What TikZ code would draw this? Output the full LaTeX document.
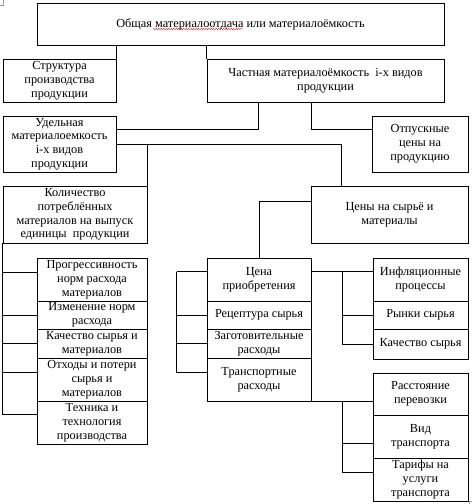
\documentclass[tikz,border=0pt]{standalone}
\usepackage{fontspec}
\setmainfont{Liberation Serif}
\usetikzlibrary{decorations.pathmorphing}
\tikzset{
  box/.style={draw, line width=0.8pt, inner sep=0pt, align=center, font=\fontsize{12.3}{13.8}\selectfont},
  conn/.style={line width=0.8pt},
  mark/.style={draw=gray, line width=0.6pt}
}
\begin{document}
\begin{tikzpicture}[x=1pt,y=-1pt]
\useasboundingbox (0,0) rectangle (472,504);
% corner marks
\draw[gray!80, line width=0.6pt] (0,5) -- (3,5) -- (3,0);
\draw[gray!80, line width=0.6pt] (469,504) -- (469,501) -- (472,501);
% boxes
\node[box, minimum width=407pt, minimum height=42pt] (top) at (240.5,24) {Общая материалоотдача или материалоёмкость};
\draw[red, line width=0.4pt, decorate, decoration={snake, amplitude=0.6pt, segment length=2.5pt}] (153,29) -- (243,29);
\node[box, minimum width=113pt, minimum height=43pt] (str) at (59.5,80.5) {Структура\\производства\\продукции};
\node[box, minimum width=237pt, minimum height=43pt] (part) at (325.5,80.5) {Частная материалоёмкость\ \ i-x видов\\продукции};
\node[box, minimum width=113pt, minimum height=56pt] (ud) at (59.5,144) {Удельная\\материалоемкость\\i-x видов\\продукции};
\node[box, minimum width=96pt, minimum height=56pt] (otp) at (420,144) {Отпускные\\цены на\\продукцию};
\node[box, minimum width=144pt, minimum height=57pt] (kol) at (75,214.5) {Количество\\потреблённых\\материалов на выпуск\\единицы\ \ продукции};
\node[box, minimum width=157pt, minimum height=57pt] (ceny) at (389.5,214.5) {Цены на сырьё и\\материалы};
% left stack
\node[box, minimum width=110pt, minimum height=43pt] (progr) at (92,279.5) {Прогрессивность\\норм расхода\\материалов};
\node[box, minimum width=110pt, minimum height=28pt] (izm) at (92,315) {Изменение норм\\расхода};
\node[box, minimum width=110pt, minimum height=29pt] (kach) at (92,343.5) {Качество сырья и\\материалов};
\node[box, minimum width=110pt, minimum height=43pt] (otx) at (92,379.5) {Отходы и потери\\сырья и\\материалов};
\node[box, minimum width=110pt, minimum height=43pt] (tex) at (92,422.5) {Техника и\\технология\\производства};
% middle stack
\node[box, minimum width=104pt, minimum height=43pt] (cena) at (259,279.5) {Цена\\приобретения};
\node[box, minimum width=104pt, minimum height=28pt] (rec) at (259,315) {Рецептура сырья};
\node[box, minimum width=104pt, minimum height=29pt] (zag) at (259,343.5) {Заготовительные\\расходы};
\node[box, minimum width=104pt, minimum height=43pt] (tr) at (259,379.5) {Транспортные\\расходы};
% right stack
\node[box, minimum width=95pt, minimum height=43pt] (inf) at (420.5,279.5) {Инфляционные\\процессы};
\node[box, minimum width=95pt, minimum height=28pt] (ryn) at (420.5,315) {Рынки сырья};
\node[box, minimum width=95pt, minimum height=30pt] (kachs) at (420.5,344) {Качество сырья};
% transport stack
\node[box, minimum width=95pt, minimum height=42pt] (ras) at (420.5,394) {Расстояние\\перевозки};
\node[box, minimum width=95pt, minimum height=43pt] (vid) at (420.5,436.5) {Вид\\транспорта};
\node[box, minimum width=95pt, minimum height=43pt] (tar) at (420.5,479.5) {Тарифы на\\услуги\\транспорта};
% connectors
\draw[conn] (top.south -| str.east) -- (str.north east);
\draw[conn] (top.south -| part.west) -- (part.north west);
\draw[conn] ([xshift=52pt]part.south west) |- ([yshift=-14pt]ud.north east);
\draw[conn] ([xshift=-133pt]part.south east) |- ([yshift=-14pt]otp.north west);
\coordinate (j1) at ([yshift=-29pt]ud.north east);
\draw[conn] (j1) -| ([xshift=31pt]ceny.north west);
\draw[conn] (kol.north east |- j1) -- (kol.north east);
\draw[conn] ([yshift=-16pt]ceny.north west) -| (cena.north);
% left bracket
\draw[conn] (kol.south west) |- ([yshift=-14pt]tex.north west);
\draw[conn] (kol.south west) |- ([yshift=-15pt]progr.north west);
\draw[conn] (kol.south west) |- (izm.west);
\draw[conn] (kol.south west) |- (kach.west);
\draw[conn] (kol.south west) |- ([yshift=-15pt]otx.north west);
% middle bracket
\coordinate (m0) at ([xshift=-30pt,yshift=-14pt]cena.north west);
\draw[conn] (m0) -- (cena.west |- m0);
\draw[conn] (m0) |- ([yshift=-15pt]tr.north west);
\draw[conn] (m0) |- (rec.west);
\draw[conn] (m0) |- (zag.west);
% right of cena
\coordinate (r0) at ([xshift=31pt,yshift=-14pt]cena.north east);
\draw[conn] ([yshift=-14pt]cena.north east) -- ([yshift=-14pt]inf.north west);
\draw[conn] (r0) |- (ryn.west);
\draw[conn] (r0) |- (kachs.west);
% transport
\coordinate (t0) at ([xshift=31pt]tr.south east);
\draw[conn] (tr.south east) -- (tr.south east -| ras.west);
\draw[conn] (t0) |- ([yshift=-29pt]vid.north west);
\draw[conn] (t0) |- ([yshift=-15pt]tar.north west);
\end{tikzpicture}
\end{document}
